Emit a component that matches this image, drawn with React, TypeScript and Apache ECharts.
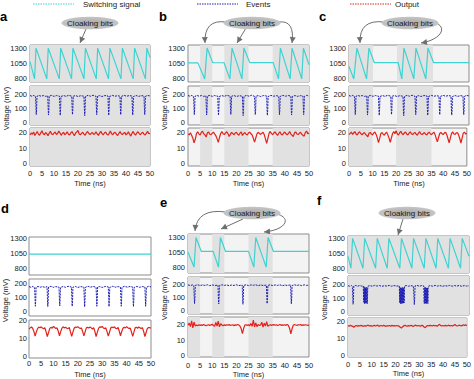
import React, { useEffect, useRef } from "react";
import * as echarts from "echarts";

// ---------- DATA ----------
const xTickStep = 5;
const switchTicks = [800, 1050, 1300];
const eventTicks = [0, 100, 200];
const outputTicks = [0, 10, 20];

const switchA = [[0,1080],[1.9,800],[2.5,1300],[7.0,800],[7.6,1300],[12.2,800],[12.8,1300],[17.3,800],[17.9,1300],[22.5,800],[23.1,1300],[27.6,800],[28.2,1300],[32.7,800],[33.3,1300],[37.9,800],[38.5,1300],[43.0,800],[43.6,1300],[48.1,800],[48.7,1300],[50,1150]];
const switchB = [[0,1060],[4.1,1060],[6.9,800],[7.9,1300],[10.1,1075],[10.4,1062],[14.9,1062],[17.3,800],[18.2,1300],[22.3,800],[23.1,1300],[25.5,1065],[35.2,1065],[37.4,800],[38.2,1300],[42.2,800],[43.0,1300],[47.0,800],[47.7,1300],[50,1030]];
const switchC = [[0,1000],[2.0,800],[3.3,1300],[7.3,800],[8.3,1300],[10.5,1065],[20.5,1065],[22.0,800],[22.9,1300],[27.0,800],[27.9,1300],[32.0,800],[32.9,1300],[35.2,1065],[50,1065]];
const switchD = [[0,1040],[10,1041],[20,1039],[30,1040],[40,1041],[50,1040]];
const switchE = [[0,1050],[2.5,800],[3.3,1300],[5.5,1065],[10.4,1065],[12.6,800],[13.4,1300],[15.5,1065],[25.0,1065],[27.2,800],[28.0,1300],[32.3,800],[33.1,1300],[35.3,1065],[50,1065]];
const switchF = [[0,1000],[1.2,800],[1.9,1300],[6.2,800],[6.9,1300],[11.4,800],[12.1,1300],[16.2,800],[16.9,1300],[21.4,800],[22.1,1300],[26.4,800],[27.1,1300],[31.5,800],[32.2,1300],[36.4,800],[37.1,1300],[41.5,800],[42.2,1300],[46.5,800],[47.2,1300],[50,1000]];

const eventsPeriodic = [[0,193],[0.8,188],[1.6,194],[2.3,186],[2.45,120],[2.6,55],[2.75,90],[2.9,187],[3.7,194],[4.6,188],[5.5,193],[6.5,187],[7.4,191],[7.55,110],[7.7,52],[7.85,80],[8.0,189],[9,194],[10,187],[11,193],[12.3,188],[12.45,100],[12.6,50],[12.75,95],[12.9,186],[14,193],[15,187],[16,194],[17.4,189],[17.55,105],[17.7,56],[17.85,85],[18.0,188],[19,193],[20,186],[21.2,192],[22.5,188],[22.65,95],[22.8,48],[22.95,90],[23.1,187],[24.2,194],[25.2,188],[26.3,195],[27.5,187],[27.65,110],[27.8,55],[27.95,88],[28.1,189],[29,192],[30,186],[31.2,193],[32.5,190],[32.65,100],[32.8,50],[32.95,92],[33.1,186],[34.3,194],[35.4,188],[36.5,192],[37.5,188],[37.65,105],[37.8,54],[37.95,90],[38.1,187],[39.2,194],[40.3,188],[41.4,193],[42.5,189],[42.65,100],[42.8,52],[42.95,85],[43.1,186],[44.2,193],[45.3,187],[46.4,192],[47.5,190],[47.65,110],[47.8,55],[47.95,92],[48.1,187],[49,194],[50,190]];
const eventsD = [[0,177],[0.8,172],[1.6,178],[2.3,171],[2.45,110],[2.6,40],[2.75,80],[2.9,172],[3.7,178],[4.6,173],[5.5,177],[6.5,172],[7.4,176],[7.55,100],[7.7,38],[7.85,75],[8.0,174],[9,179],[10,172],[11,177],[12.3,173],[12.45,95],[12.6,42],[12.75,85],[12.9,171],[14,178],[15,172],[16,179],[17.4,174],[17.55,100],[17.7,40],[17.85,80],[18.0,173],[19,178],[20,171],[21.2,177],[22.5,173],[22.65,90],[22.8,36],[22.95,85],[23.1,172],[24.2,179],[25.2,173],[26.3,178],[27.5,172],[27.65,105],[27.8,40],[27.95,82],[28.1,174],[29,177],[30,171],[31.2,178],[32.5,175],[32.65,95],[32.8,38],[32.95,85],[33.1,171],[34.3,179],[35.4,173],[36.5,177],[37.5,173],[37.65,100],[37.8,40],[37.95,85],[38.1,172],[39.2,179],[40.3,173],[41.4,178],[42.5,174],[42.65,95],[42.8,38],[42.95,80],[43.1,171],[44.2,178],[45.3,172],[46.4,177],[47.5,175],[47.65,105],[47.8,40],[47.95,85],[48.1,172],[49,179],[50,175]];
const eventsE = [[0,194],[1,189],[2,195],[2.4,188],[2.55,110],[2.7,50],[2.85,90],[3.0,190],[4,195],[5,189],[6,194],[7,190],[8,195],[9,188],[10,194],[11,190],[12.4,192],[12.55,105],[12.7,48],[12.85,95],[13.0,189],[14,195],[15,190],[16,194],[17,188],[18,193],[19,190],[20,195],[21,189],[22.4,193],[22.55,100],[22.7,45],[22.85,90],[23.0,190],[24,195],[25,189],[26,194],[27,191],[28,195],[29,188],[30,194],[31,190],[32.4,192],[32.55,110],[32.7,50],[32.85,88],[33.0,190],[34,195],[35,189],[36,194],[37,190],[38,195],[39,188],[40,193],[41,190],[42.4,194],[42.55,105],[42.7,48],[42.85,92],[43.0,189],[44,195],[45,190],[46,194],[47,188],[48,195],[49,190],[50,193]];
const eventsF = [[0,193],[0.7,189],[1.4,194],[1.8,188],[1.95,110],[2.1,55],[2.25,90],[2.4,190],[3.2,195],[4.0,189],[4.8,194],[5.6,190],[6.3,192],[6.5,70],[6.65,185],[6.8,60],[6.95,180],[7.1,65],[7.25,175],[7.4,58],[7.55,182],[7.7,62],[7.85,178],[8.0,60],[8.15,170],[8.3,190],[9,194],[10,189],[11,195],[12,190],[13,194],[14,188],[15,193],[16,190],[17,195],[18,189],[19,194],[20,190],[21.2,192],[21.4,65],[21.55,180],[21.7,60],[21.85,178],[22.0,62],[22.15,176],[22.3,58],[22.45,180],[22.6,64],[22.75,175],[22.9,60],[23.05,178],[23.2,65],[23.35,190],[24,194],[25,189],[26,193],[27.0,190],[27.25,110],[27.4,52],[27.55,95],[27.7,191],[28.5,195],[29.5,189],[30.5,194],[31.3,191],[31.5,62],[31.65,178],[31.8,58],[31.95,180],[32.1,63],[32.25,175],[32.4,60],[32.55,179],[32.7,64],[32.85,176],[33.0,60],[33.15,172],[33.3,190],[34,194],[35,189],[36,195],[37,190],[38,194],[39,188],[40,193],[41,190],[42,195],[43,189],[44,194],[45,190],[46,195],[47,188],[48,194],[49,190],[50,193]];

// output sampled every 0.5 ns from 0 to 50
const outputA = [18.5,19.8,19.0,20.5,18.2,19.5,20.8,19.1,18.4,19.9,21.2,19.3,18.7,20.1,19.4,18.0,19.6,20.9,19.2,18.8,19.7,20.4,18.9,19.5,21.0,19.8,18.3,19.6,20.2,18.7,19.4,20.6,19.0,18.5,19.9,20.7,19.3,18.1,19.8,20.5,21.4,19.2,18.6,19.7,20.3,19.0,18.4,19.9,20.8,19.5,18.8,19.6,20.1,18.9,19.4,20.6,19.2,18.3,19.7,20.9,19.4,18.6,19.8,20.4,19.1,18.5,19.6,21.1,19.3,18.7,19.9,20.3,19.0,18.2,19.5,20.7,19.4,18.8,19.7,20.2,18.6,19.3,20.5,19.1,17.8,19.6,20.8,19.2,18.4,19.9,20.6,19.4,18.7,19.8,20.3,19.0,18.5,19.7,20.9,19.3,19.6];
const outputB = [19.2,18.6,19.9,18.4,16.5,13.5,15.8,19.4,20.6,19.1,18.5,20.2,21.0,19.3,18.6,17.2,19.8,20.5,19.0,18.7,19.6,20.4,19.2,18.1,16.2,13.8,16.9,19.5,20.7,19.3,18.8,19.9,20.6,19.4,17.6,18.9,20.2,19.5,18.6,19.8,20.3,19.1,18.4,19.7,20.5,18.2,19.4,20.1,19.0,18.6,19.8,20.4,19.3,18.5,16.4,14.0,16.6,19.2,20.3,19.5,18.9,19.7,20.2,18.8,16.0,13.2,16.4,19.6,20.8,19.4,18.7,19.9,20.5,19.2,18.3,19.6,20.6,19.0,18.5,19.8,20.4,19.3,18.6,19.5,20.7,19.1,18.4,17.5,19.9,20.5,19.2,18.8,19.6,20.3,19.0,18.3,17.8,20.2,21.0,19.4,19.7];
const outputC = [18.8,19.6,20.4,18.9,19.8,20.7,19.2,18.5,19.9,20.6,19.4,18.7,19.5,20.1,19.0,18.3,17.4,19.6,20.2,19.1,18.6,19.8,20.5,18.9,16.8,13.6,16.2,19.4,20.1,19.0,18.4,19.7,20.3,18.6,16.5,13.9,16.7,19.5,20.8,19.3,21.3,19.2,18.5,20.0,20.9,19.4,18.7,19.9,20.4,19.1,18.6,19.7,20.5,19.3,18.8,19.6,20.2,19.0,18.4,19.8,20.6,19.2,18.9,19.5,20.1,19.0,18.5,19.7,20.3,19.4,18.7,19.6,20.4,18.9,16.4,14.2,16.9,19.5,20.2,19.3,18.8,19.9,20.3,18.7,16.1,13.5,16.6,19.4,20.6,19.2,18.9,19.8,20.1,18.6,16.3,13.4,16.5,19.7,20.4,19.1,19.6];
const outputD = [15.2,15.8,16.3,15.6,13.8,11.2,13.5,15.4,16.2,15.9,16.4,15.7,15.3,15.9,13.6,11.0,13.2,15.5,16.1,15.6,16.6,16.0,15.5,15.8,13.9,11.4,13.7,15.7,16.4,15.8,16.2,15.6,15.4,16.0,13.5,11.1,13.4,15.6,16.3,16.0,16.5,15.9,15.5,15.7,13.7,11.3,13.6,15.8,16.2,15.7,16.3,15.8,15.2,15.9,13.8,11.0,13.3,15.5,16.4,16.1,16.6,15.7,15.4,15.8,13.6,11.2,13.5,15.7,16.3,15.9,16.4,15.6,15.3,16.0,13.9,11.4,13.8,15.6,16.1,15.8,16.5,15.9,15.5,15.7,13.5,11.1,13.4,15.8,16.2,15.6,16.3,15.8,15.4,15.9,13.7,11.0,13.2,15.5,16.0,15.9,15.7];
const outputE = [19.5,20.8,18.6,22.3,17.8,21.5,18.9,19.6,19.2,19.8,19.4,19.7,19.3,19.9,19.5,19.1,19.6,19.8,19.4,19.7,20.1,19.3,18.8,21.2,19.0,22.0,18.5,20.4,19.6,19.2,19.7,19.4,19.8,19.5,19.9,19.3,19.6,19.8,19.2,19.7,19.5,19.9,19.6,18.9,17.2,14.2,17.5,19.6,19.8,19.4,19.7,19.2,20.6,18.8,22.8,18.4,20.9,18.6,19.9,19.3,19.6,21.4,18.3,20.7,18.9,21.8,18.7,19.5,19.8,19.4,19.7,19.9,19.5,19.8,19.3,19.6,19.9,19.4,19.7,19.5,19.8,19.4,19.9,19.3,17.4,14.0,17.2,19.5,19.9,19.6,19.4,19.8,19.6,19.9,19.3,19.7,19.5,19.8,19.6,19.4,19.7];
const outputF = [17.6,17.3,17.8,17.5,17.2,16.6,17.4,17.7,17.3,17.6,17.4,17.8,17.5,17.2,17.6,17.3,17.7,17.9,17.4,17.6,17.3,17.5,17.8,17.4,17.6,17.9,17.3,17.5,17.7,17.4,17.8,17.5,17.2,17.6,17.4,17.7,17.3,17.8,17.5,17.6,17.4,17.7,17.5,17.3,16.7,16.2,17.0,17.6,17.8,17.5,17.3,17.6,17.4,17.8,17.5,17.2,17.6,17.9,17.4,17.7,17.5,17.3,17.8,17.6,16.8,16.4,17.2,17.7,17.5,17.8,17.6,17.4,17.9,17.5,17.7,17.3,17.8,18.4,17.6,17.5,17.7,17.4,17.8,17.5,17.6,17.9,17.4,17.7,17.5,17.8,18.3,17.6,17.4,17.7,17.9,17.5,17.6,18.1,17.7,18.2,17.6];
const outputStep = 0.5;

const cloakBandsB = [[5, 10], [15, 25], [35, 50]];
const cloakBandsC = [[0, 10], [20, 35]];
const cloakBandsE = [[0, 5], [10, 15], [25, 35]];
const cloakBandsAll = [[0, 50]];

const legendNames = ["Switching signal", "Events", "Output"];

// ---------- STYLE / LAYOUT ----------
const FONT = "'Liberation Sans', Arial, Helvetica, sans-serif";
const CYAN = "#3dd3d1";
const BLUE = "#1d1db4";
const RED = "#e3221c";
const BAND = "#e1e1e1";

const withTime = (vals: number[]) => vals.map((v, i) => [i * outputStep, v]);

const panels = [
  { letter: "a", lx: 0, ly: 16, left: 30, width: 120, boxes: [[45, 37], [86, 39], [128, 38]], ranges: [[750, 1350], [-20, 262], [-1.3, 23]], bg: "#f3f3f3", bands: cloakBandsAll, sw: switchA, ev: eventsPeriodic, out: outputA, xm: 3.5, timeY: 183, yLabM: 3 },
  { letter: "b", lx: 159, ly: 16, left: 188, width: 121, boxes: [[45, 37], [86, 39], [128, 38]], ranges: [[750, 1350], [-20, 262], [-1.3, 23]], bg: "#f3f3f3", bands: cloakBandsB, sw: switchB, ev: eventsPeriodic, out: outputB, xm: 3.5, timeY: 183, yLabM: 3 },
  { letter: "c", lx: 319, ly: 16, left: 349, width: 120, boxes: [[45, 37], [86, 39], [128, 38]], ranges: [[750, 1350], [-20, 262], [-1.3, 23]], bg: "#f3f3f3", bands: cloakBandsC, sw: switchC, ev: eventsPeriodic, out: outputC, xm: 3.5, timeY: 183, yLabM: 3 },
  { letter: "d", lx: 1, ly: 208, left: 29, width: 122, boxes: [[237, 38], [279, 37], [320, 38]], ranges: [[700, 1320], [-28, 230], [-1, 20.2]], bg: "#ffffff", bands: [], sw: switchD, ev: eventsD, out: outputD, xm: 1.5, timeY: 374, yLabM: 2 },
  { letter: "e", lx: 160, ly: 202, left: 188, width: 121, boxes: [[234, 39], [277, 37], [317, 40]], ranges: [[700, 1360], [-30, 255], [-0.7, 24.7]], bg: "#f3f3f3", bands: cloakBandsE, sw: switchE, ev: eventsE, out: outputE, xm: 4, timeY: 374.5, yLabM: 3 },
  { letter: "f", lx: 317, ly: 200, left: 348, width: 121, boxes: [[236, 37], [276, 39], [318, 39]], ranges: [[720, 1340], [-25, 265], [-1.2, 22.2]], bg: "#f3f3f3", bands: cloakBandsAll, sw: switchF, ev: eventsF, out: outputF, xm: 3.5, timeY: 373.5, yLabM: 3 },
];

function arrowHead(tx: number, ty: number, fx: number, fy: number, len = 6, half = 3) {
  const dx = tx - fx, dy = ty - fy;
  const L = Math.hypot(dx, dy) || 1;
  const ux = dx / L, uy = dy / L;
  const bx = tx - ux * len, by = ty - uy * len;
  return {
    type: "polygon",
    silent: true,
    shape: { points: [[tx, ty], [bx - uy * half, by + ux * half], [bx + uy * half, by - ux * half]] },
    style: { fill: "#6f6f6f" },
  };
}

function bubble(cx: number, cy: number) {
  return [
    {
      type: "ellipse",
      silent: true,
      shape: { cx, cy, rx: 28.5, ry: 6.3 },
      style: {
        fill: new echarts.graphic.RadialGradient(0.5, 0.5, 0.6, [
          { offset: 0, color: "#a9a9a9" },
          { offset: 1, color: "#cbcbcb" },
        ]),
      },
    },
    {
      type: "text",
      silent: true,
      x: cx,
      y: cy,
      style: { text: "Cloaking bits", font: `8px ${FONT}`, fill: "#1a1a1a", align: "center", verticalAlign: "middle" },
    },
  ];
}

const ARROW_STROKE = { stroke: "#6f6f6f", lineWidth: 1, fill: "none" };
function straightArrow(x1: number, y1: number, x2: number, y2: number) {
  return [
    { type: "line", silent: true, shape: { x1, y1, x2, y2 }, style: ARROW_STROKE },
    arrowHead(x2, y2, x1, y1),
  ];
}
function quadArrow(x1: number, y1: number, cx: number, cy: number, x2: number, y2: number) {
  return [
    { type: "bezierCurve", silent: true, shape: { x1, y1, cpx1: cx, cpy1: cy, x2, y2 }, style: ARROW_STROKE },
    arrowHead(x2, y2, cx, cy),
  ];
}
function cubicArrow(x1: number, y1: number, c1x: number, c1y: number, c2x: number, c2y: number, x2: number, y2: number) {
  return [
    { type: "bezierCurve", silent: true, shape: { x1, y1, cpx1: c1x, cpy1: c1y, cpx2: c2x, cpy2: c2y, x2, y2 }, style: ARROW_STROKE },
    arrowHead(x2, y2, c2x, c2y),
  ];
}

function buildOption() {
  const grid: any[] = [];
  const xAxis: any[] = [];
  const yAxis: any[] = [];
  const series: any[] = [];
  const graphic: any[] = [];

  const tickSets = [switchTicks, eventTicks, outputTicks];
  const lineStyles = [
    { color: CYAN, width: 1.2 },
    { color: BLUE, width: 1, type: [2, 1] },
    { color: RED, width: 1.2 },
  ];

  panels.forEach((p) => {
    const datas = [p.sw, p.ev, withTime(p.out)];
    p.boxes.forEach(([top, height], j) => {
      const gi = grid.length;
      grid.push({
        left: p.left, top, width: p.width, height,
        show: true, backgroundColor: p.bg, borderColor: "#8d8d8d", borderWidth: 1,
      });
      xAxis.push({
        gridIndex: gi, type: "value", min: 0, max: 50, interval: xTickStep,
        axisLine: { show: false }, axisTick: { show: false }, splitLine: { show: false },
        axisLabel: { show: j === 2, fontSize: 7.5, fontFamily: FONT, color: "#222", margin: p.xm, hideOverlap: false, formatter: (v: number) => String(v) },
      });
      yAxis.push({
        gridIndex: gi, type: "value", min: p.ranges[j][0], max: p.ranges[j][1],
        axisLine: { show: false }, axisTick: { show: false }, splitLine: { show: false },
        axisLabel: { customValues: tickSets[j], fontSize: 7.5, fontFamily: FONT, color: "#222", margin: p.yLabM, formatter: (v: number) => String(v) },
      });
      series.push({
        type: "line", xAxisIndex: gi, yAxisIndex: gi, data: datas[j],
        showSymbol: false, symbol: "none", silent: true,
        lineStyle: lineStyles[j],
        markArea: p.bands.length
          ? { silent: true, itemStyle: { color: BAND }, label: { show: false }, data: p.bands.map(([a, b]) => [{ xAxis: a }, { xAxis: b }]) }
          : undefined,
      });
    });
    graphic.push({ type: "text", silent: true, x: p.lx, y: p.ly, style: { text: p.letter, font: `bold 13px ${FONT}`, fill: "#000", verticalAlign: "middle" } });
    const midTop = p.boxes[1][0], midH = p.boxes[1][1];
    graphic.push({
      type: "text", silent: true, x: p.left - 24, y: midTop + midH / 2 + 3, rotation: Math.PI / 2,
      style: { text: "Voltage (mV)", font: `7.5px ${FONT}`, fill: "#222", align: "center", verticalAlign: "middle" },
    });
    graphic.push({
      type: "text", silent: true, x: p.left + p.width / 2, y: p.timeY,
      style: { text: "Time (ns)", font: `7.5px ${FONT}`, fill: "#222", align: "center", verticalAlign: "middle" },
    });
  });

  const legendItems = [
    { x: 33, color: CYAN, tx: 83 },
    { x: 197, color: BLUE, tx: 246 },
    { x: 350, color: RED, tx: 395 },
  ];
  legendItems.forEach((l, i) => {
    graphic.push({ type: "line", silent: true, shape: { x1: l.x, y1: 4, x2: l.x + 41, y2: 4 }, style: { stroke: l.color, lineWidth: 1, lineDash: [1.5, 1] } });
    graphic.push({ type: "text", silent: true, x: l.tx, y: 4, style: { text: legendNames[i], font: `8px ${FONT}`, fill: "#222", verticalAlign: "middle" } });
  });

  graphic.push(...straightArrow(86, 29, 80, 43), ...bubble(90, 23));
  graphic.push(
    ...quadArrow(226, 22, 204, 19, 205, 43),
    ...straightArrow(246, 28, 237, 43),
    ...quadArrow(279, 22, 295, 20, 292, 43),
    ...bubble(252, 23)
  );
  graphic.push(
    ...quadArrow(384, 22, 359, 19, 360, 43),
    ...cubicArrow(436, 23, 448, 28, 440, 40, 421, 43),
    ...bubble(410, 23)
  );
  graphic.push(
    ...quadArrow(226, 212, 197, 208, 195, 231),
    ...straightArrow(243, 219, 221, 229),
    ...cubicArrow(277, 214, 292, 218, 286, 230, 264, 232),
    ...bubble(252, 213)
  );
  graphic.push(...straightArrow(403, 219, 398, 235), ...bubble(407, 213));

  return { animation: false, grid, xAxis, yAxis, series, graphic };
}

export default function App() {
  const ref = useRef<HTMLDivElement>(null);
  useEffect(() => {
    if (!ref.current) return;
    const chart = echarts.init(ref.current, undefined, { renderer: "svg" });
    chart.setOption(buildOption() as any);
    return () => chart.dispose();
  }, []);
  return (
    <div
      ref={ref}
      style={{ position: "absolute", left: 0, top: 0, width: 474, height: 379, background: "#fff" }}
    />
  );
}
